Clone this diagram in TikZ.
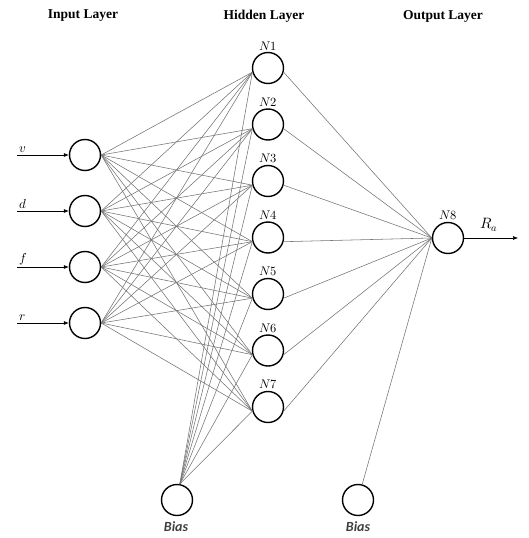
\documentclass[tikz,border=0pt]{standalone}
\usepackage{fontspec}
\usepackage{unicode-math}
\setmainfont{Liberation Serif}
\setmathfont{Latin Modern Math}
\newfontfamily\biasfont{Carlito}
\usetikzlibrary{arrows.meta,positioning}

\begin{document}
\begin{tikzpicture}[x=1pt,y=-1pt,
	neuron/.style={circle,draw,line width=1.4pt,minimum size=31pt,inner sep=0pt},
	link/.style={draw=black!55,line width=0.55pt},
	title/.style={font=\fontsize{13.5}{15}\selectfont\bfseries},
	biaslabel/.style={font=\fontsize{14}{16}\selectfont\biasfont\bfseries\itshape,text=black!75}]

\useasboundingbox (0,0) rectangle (529,538);

\node[title] (tin) at (83,16) {Input Layer};
\node[title] (thid) at (264,16) {Hidden Layer};
\node[title] (tout) at (443,16) {Output Layer};

\foreach \i/\y/\lab in {1/155/v, 2/211/d, 3/267/f, 4/323/r}
{
	\node[neuron] (in\i) at (85,\y) {};
	\coordinate (s\i) at (17,\y);
	\draw[line width=0.6pt,-{Latex[length=5pt,width=4pt]}] (s\i) -- (in\i.west);
	\node[anchor=south west,font=\fontsize{13}{15}\selectfont,inner sep=2pt] (l\i) at (s\i) {$\lab$};
};

\foreach \i in {1,...,7}
{
	\node[neuron] (n\i) at (268,{68+56.5*(\i-1)}) {};
	\node[above=0pt of n\i.north,font=\fontsize{12.5}{14}\selectfont,inner sep=1.5pt] (ln\i) {$N\i$};
};

\node[neuron] (n8) at (448,238) {};
\node[above=0pt of n8.north,font=\fontsize{12.5}{14}\selectfont,inner sep=1.5pt] (ln8) {$N8$};
\coordinate (ra) at (518,238);
\draw[line width=0.6pt,-{Latex[length=5pt,width=4pt]}] (n8.east) -- (ra);
\node[font=\fontsize{15}{17}\selectfont] (lra) at (489,225) {$R_a$};

\node[neuron] (b1) at (177,500) {};
\node[biaslabel] (lb1) at (176,527) {Bias};
\node[neuron] (b2) at (358,500) {};
\node[biaslabel] (lb2) at (358,527) {Bias};

\foreach \i in {1,...,4}
	\foreach \j in {1,...,7}
	{
		\draw[link] (in\i.east) -- (n\j.195);
	};

\foreach \j in {1,...,7}
{
	\draw[link] (b1.80) -- (n\j.195);
	\draw[link] (n\j.345) -- (n8.west);
};

\draw[link] (b2.75) -- (n8.west);
\end{tikzpicture}
\end{document}
